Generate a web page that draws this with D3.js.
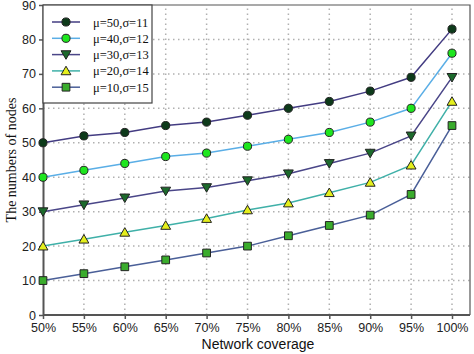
<!DOCTYPE html>
<html>
<head>
<meta charset="utf-8">
<script src="https://cdn.jsdelivr.net/npm/d3@7"></script>
<style>
  body { margin: 0; background: #fff; }
  .tick text { font-family: "Liberation Sans", Arial, sans-serif; font-size: 12.5px; fill: #222; }
</style>
</head>
<body>
<svg id="chart" width="474" height="354"></svg>
<script>
// Data
const coverage = ['50%', '55%', '60%', '65%', '70%', '75%', '80%', '85%', '90%', '95%', '100%']
const y_ticks = [0, 10, 20, 30, 40, 50, 60, 70, 80, 90]

const s_mu50 = [50, 52, 53, 55, 56, 58, 60, 62, 65, 69, 83]
const s_mu40 = [40, 42, 44, 46, 47, 49, 51, 53, 56, 60, 76]
const s_mu30 = [30, 32, 34, 36, 37, 39, 41, 44, 47, 52, 69]
const s_mu20 = [20, 22, 24, 26, 28, 30.5, 32.5, 35.5, 38.5, 43.5, 62]
const s_mu10 = [10, 12, 14, 16, 18, 20, 23, 26, 29, 35, 55]

const series_names = ['μ=50,σ=11', 'μ=40,σ=12', 'μ=30,σ=13', 'μ=20,σ=14', 'μ=10,σ=15']
const series_values = [s_mu50, s_mu40, s_mu30, s_mu20, s_mu10]

// Styles
const styles = [
  { line: '#433c82', fill: '#0d3a1a', symbol: d3.symbolCircle, size: 52, rot: 0 },
  { line: '#5aaee6', fill: '#1ee61e', symbol: d3.symbolCircle, size: 52, rot: 0 },
  { line: '#4a4688', fill: '#1c6a2c', symbol: d3.symbolTriangle, size: 42, rot: 180 },
  { line: '#3fb0a8', fill: '#e4ef1c', symbol: d3.symbolTriangle, size: 42, rot: 0 },
  { line: '#4a5f98', fill: '#3aac2c', symbol: d3.symbolSquare, size: 60, rot: 0 },
]

const margin = { left: 43, right: 4, top: 5, bottom: 39 }
const W = 474, H = 354
const svg = d3.select('#chart')

// Scales
let x = d3.scalePoint()
  .domain(coverage)
  .range([margin.left, margin.left + 409])
let y = d3.scaleLinear()
  .domain([0, 90])
  .range([H - margin.bottom, margin.top])

const x0 = margin.left, x1 = W - margin.right
const y0 = H - margin.bottom, y1 = margin.top

// Grid
let grid = svg.append('g').attr('class', 'grid')
grid.selectAll('.vgrid')
  .data(coverage.slice(1))
  .enter()
  .append('line')
    .attr('x1', d => x(d)).attr('x2', d => x(d))
    .attr('y1', y0).attr('y2', y1)
    .attr('stroke', '#b0b0b0')
    .attr('stroke-width', 1.5)
    .attr('stroke-dasharray', '1.5,3.5')
grid.selectAll('.hgrid')
  .data(y_ticks.slice(1, -1))
  .enter()
  .append('line')
    .attr('x1', x0).attr('x2', x1)
    .attr('y1', d => y(d)).attr('y2', d => y(d))
    .attr('stroke', '#b0b0b0')
    .attr('stroke-width', 1.5)
    .attr('stroke-dasharray', '1.5,3.5')

// Frame (top + right)
svg.append('path')
  .attr('d', `M${x0},${y1}H${x1}V${y0}`)
  .attr('fill', 'none')
  .attr('stroke', '#555')
  .attr('stroke-width', 1.2)

// Axes
let x_axis = svg.append('g')
  .attr('transform', `translate(0,${y0})`)
  .call(d3.axisBottom(x).tickSize(4).tickPadding(4).tickSizeOuter(0))
x_axis.select('.domain').attr('d', `M${x0},0H${x1}`).attr('stroke', '#555').attr('stroke-width', 2)
x_axis.selectAll('.tick line').attr('stroke', '#555').attr('stroke-width', 1.5)

let y_axis = svg.append('g')
  .attr('transform', `translate(${x0},0)`)
  .call(d3.axisLeft(y).tickValues(y_ticks).tickSize(4).tickPadding(3).tickSizeOuter(0))
y_axis.select('.domain').attr('stroke', '#555').attr('stroke-width', 2)
y_axis.selectAll('.tick line').attr('stroke', '#555').attr('stroke-width', 1.5)

// Axis titles
svg.append('text')
  .attr('x', 258).attr('y', 349)
  .attr('text-anchor', 'middle')
  .style('font-family', '"Liberation Sans", Arial, sans-serif')
  .style('font-size', '14px')
  .attr('fill', '#111')
  .text('Network coverage')

svg.append('text')
  .attr('transform', `translate(16,${(y0 + y1) / 2}) rotate(-90)`)
  .attr('text-anchor', 'middle')
  .style('font-family', '"Liberation Serif", "Times New Roman", serif')
  .style('font-size', '14px')
  .attr('fill', '#111')
  .text('The numbers of nodes')

// Lines and markers
let line = d3.line()
  .x((d, i) => x(coverage[i]))
  .y(d => y(d))

for (let [si, values] of series_values.entries()) {
  let st = styles[si]
  svg.append('path')
    .datum(values)
    .attr('d', line)
    .attr('fill', 'none')
    .attr('stroke', st.line)
    .attr('stroke-width', 1.5)

  svg.append('g')
    .selectAll('path')
    .data(values)
    .enter()
    .append('path')
      .attr('d', d3.symbol().type(st.symbol).size(st.size))
      .attr('transform', (d, i) => {
        let dy = st.symbol === d3.symbolTriangle ? (st.rot ? -1 : 1) : 0
        return `translate(${x(coverage[i])},${y(d) + dy}) rotate(${st.rot})`
      })
      .attr('fill', st.fill)
      .attr('stroke', '#222')
      .attr('stroke-width', 1)
}

// Legend
let legend = svg.append('g')
legend.append('rect')
  .attr('x', x0).attr('y', y1)
  .attr('width', 109).attr('height', 98)
  .attr('fill', '#fff')
  .attr('stroke', '#444')
  .attr('stroke-width', 1.2)

for (let [si, name] of series_names.entries()) {
  let st = styles[si]
  let ly = 22 + si * 16.3
  legend.append('line')
    .attr('x1', 52).attr('x2', 80)
    .attr('y1', ly).attr('y2', ly)
    .attr('stroke', st.line)
    .attr('stroke-width', 1.5)
  let dy = st.symbol === d3.symbolTriangle ? (st.rot ? -1 : 1) : 0
  legend.append('path')
    .attr('d', d3.symbol().type(st.symbol).size(st.size))
    .attr('transform', `translate(66,${ly + dy}) rotate(${st.rot})`)
    .attr('fill', st.fill)
    .attr('stroke', '#222')
    .attr('stroke-width', 1)
  legend.append('text')
    .attr('x', 93).attr('y', ly + 4.5)
    .style('font-family', '"Liberation Serif", "Times New Roman", serif')
    .style('font-size', '12.5px')
    .attr('fill', '#111')
    .text(name)
}
</script>
</body>
</html>
